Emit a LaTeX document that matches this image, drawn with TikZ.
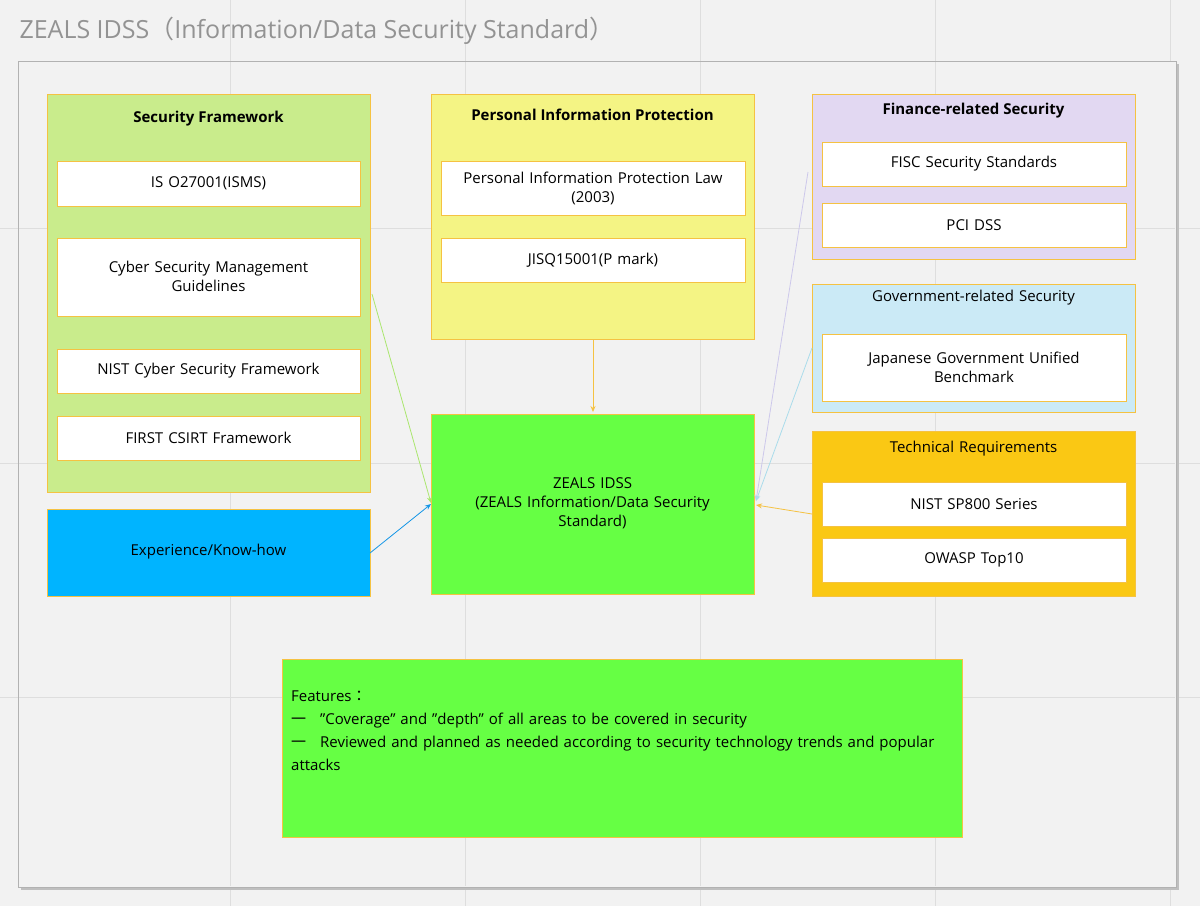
\documentclass[tikz,border=0pt]{standalone}
\usepackage{fontspec}
\setmainfont{Open Sans}
\newfontfamily\cjk{Noto Sans CJK JP}
\usetikzlibrary{arrows.meta,shadows}
\definecolor{bg}{HTML}{F2F2F2}
\definecolor{gridc}{HTML}{DEDEDE}
\definecolor{bord}{HTML}{F5C242}
\definecolor{sfg}{HTML}{C9EC8C}
\definecolor{pig}{HTML}{F4F484}
\definecolor{fin}{HTML}{E2D8F2}
\definecolor{gov}{HTML}{CBEAF6}
\definecolor{tec}{HTML}{FAC814}
\definecolor{exp}{HTML}{00B4FF}
\definecolor{zg}{HTML}{66FF44}
\begin{document}
\begin{tikzpicture}[x=1pt,y=-1pt,
  grp/.style={draw=bord,line width=0.8pt},
  wb/.style={draw=bord,fill=white,line width=0.8pt},
  lbl/.style={font=\fontsize{15}{19}\selectfont,align=center,text width=290pt},
  ttl/.style={font=\fontsize{15}{19}\selectfont\bfseries,align=center},
  arr/.style={-{Stealth[length=6pt,width=5pt]},line width=0.8pt}]
\useasboundingbox (0,0) rectangle (1200,906);
\fill[bg] (0,0) rectangle (1200,906);
\foreach \x in {230,465,700,935,1170} \draw[gridc] (\x,0) -- (\x,906);
\foreach \y in {228,463,697} \draw[gridc] (0,\y) -- (1200,\y);
\node[anchor=west,text=gray!85,font=\fontsize{25}{30}\selectfont] (title) at (16,31) {ZEALS IDSS{\cjk （}Information/Data Security Standard{\cjk ）}};
\fill[black!25] (21,64) rectangle (1179,890);
\draw[fill=bg,draw=black!30] (18,61) rectangle (1176,887);
\foreach \y in {228,463,697} \draw[gridc] (19,\y) -- (1175,\y);
\foreach \x in {230,465,700,935} \draw[gridc] (\x,62) -- (\x,886);
% groups
\draw[grp,fill=sfg] (47,94) rectangle (370,492);
\node[ttl] (sft) at (208.5,119) {Security Framework};
\draw[grp,fill=pig] (431,94) rectangle (754,339);
\node[ttl] (pit) at (592.5,115) {Personal Information Protection};
\draw[grp,fill=fin] (812,94) rectangle (1135,259);
\node[ttl] (fit) at (973.5,111) {Finance-related Security};
\draw[grp,fill=gov] (812,284) rectangle (1135,412);
\node[lbl] (got) at (973.5,298) {Government-related Security};
\draw[grp,fill=tec] (812,431) rectangle (1135,596);
\node[lbl] (tet) at (973.5,449) {Technical Requirements};
% inner boxes
\draw[wb] (57,161) rectangle (360,206); \node[lbl] (b1) at (208.5,183.5) {IS O27001(ISMS)};
\draw[wb] (57,238) rectangle (360,316); \node[lbl] (b2) at (208.5,276) {Cyber Security Management\\Guidelines};
\draw[wb] (57,349) rectangle (360,393); \node[lbl] (b3) at (208.5,371) {NIST Cyber Security Framework};
\draw[wb] (57,416) rectangle (360,460); \node[lbl] (b4) at (208.5,438) {FIRST CSIRT Framework};
\draw[wb] (441,161) rectangle (745,215); \node[lbl] (p1) at (593,188) {Personal Information Protection Law\\(2003)};
\draw[wb] (441,238) rectangle (745,282); \node[lbl] (p2) at (593,260) {JISQ15001(P mark)};
\draw[wb] (822,142) rectangle (1126,186); \node[lbl] (f1) at (974,164) {FISC Security Standards};
\draw[wb] (822,203) rectangle (1126,247); \node[lbl] (f2) at (974,225) {PCI DSS};
\draw[wb] (822,334) rectangle (1126,401); \node[lbl] (g1) at (974,367) {Japanese Government Unified\\Benchmark};
\draw[wb] (822,482) rectangle (1126,526); \node[lbl] (t1) at (974,504) {NIST SP800 Series};
\draw[wb] (822,538) rectangle (1126,582); \node[lbl] (t2) at (974,560) {OWASP Top10};
% experience & zeals
\draw[grp,fill=exp] (47,509) rectangle (370,596);
\node[lbl] (ex) at (208.5,552) {Experience/Know-how};
\draw[grp,fill=zg] (431,414) rectangle (754,594);
\node[lbl] (z) at (592.5,503) {ZEALS IDSS\\(ZEALS Information/Data Security\\Standard)};
% features
\draw[grp,fill=zg] (282,659) rectangle (962,837);
\node[anchor=north west,font=\fontsize{15}{23}\selectfont,align=left,text width=660pt,inner sep=0pt] (feat) at (291,691) {Features{\cjk ：}\\{\cjk 一}\hspace{14pt}"Coverage" and "depth" of all areas to be covered in security\\{\cjk 一}\hspace{14pt}Reviewed and planned as needed according to security technology trends and popular attacks};
% coordinates
\coordinate (sfo) at (372,294); \coordinate (zi1) at (431,503);
\coordinate (exo) at (370,553); \coordinate (zi2) at (431,504);
\coordinate (pio) at (593,339); \coordinate (zi3) at (593,412);
\coordinate (fio) at (808,172); \coordinate (gvo) at (812,348); \coordinate (zi4) at (756,501);
\coordinate (teo) at (812,514); \coordinate (zi5) at (756,505);
\draw[arr,draw={rgb,255:red,170;green,230;blue,110}] (sfo) -- (zi1);
\draw[arr,draw={rgb,255:red,20;green,150;blue,230}] (exo) -- (zi2);
\draw[arr,draw=bord] (pio) -- (zi3);
\draw[arr,draw={rgb,255:red,205;green,200;blue,235}] (fio) -- (zi4);
\draw[arr,draw={rgb,255:red,170;green,220;blue,235}] (gvo) -- (zi4);
\draw[arr,draw=bord] (teo) -- (zi5);
\end{tikzpicture}
\end{document}
